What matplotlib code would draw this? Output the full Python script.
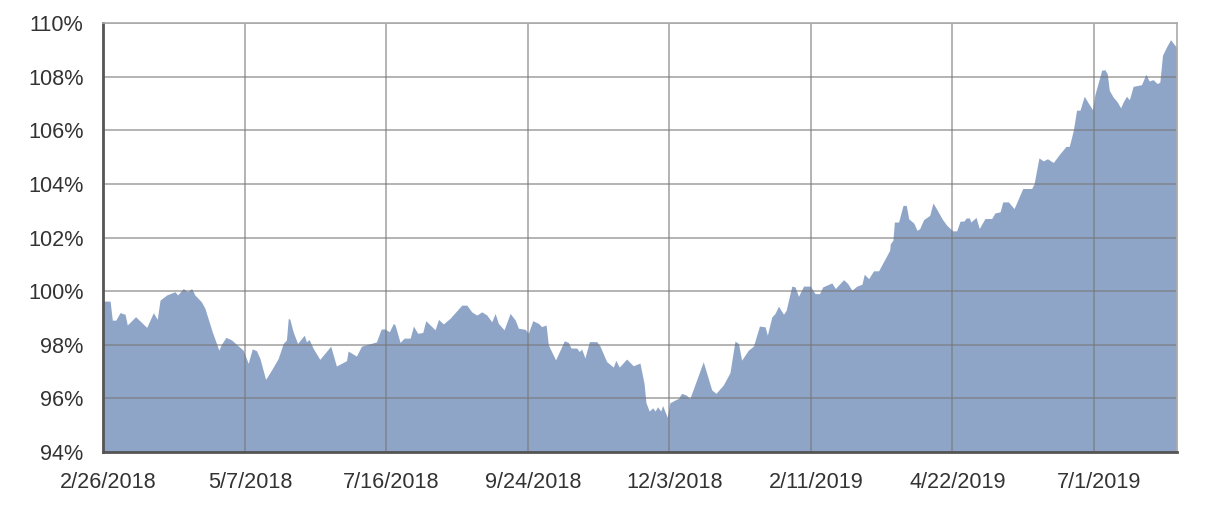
import matplotlib
matplotlib.use("Agg")
import matplotlib.pyplot as plt
import matplotlib.dates as mdates
import matplotlib.transforms as mtransforms
import numpy as np
import pandas as pd

start_date = "2018-02-26"
# days since 2/26/2018 and value (%)
day_offsets = [
    0, 3.5, 4.6, 6.3, 8.4, 10.9, 12.0, 16.1, 21.6, 24.9, 26.8, 28.2, 31.5, 35.6, 36.9,
    39.7, 41.8, 43.8, 45.4, 48.7, 50.4, 54.0, 57.3, 58.3, 60.8, 63.6, 69.3, 71.8, 73.8,
    75.9, 77.6, 80.4, 83.3, 86.6, 89.1, 90.7, 91.6, 92.4, 94.0, 96.2, 99.5, 100.6, 101.9,
    103.9, 107.2, 112.6, 115.4, 120.4, 121.2, 125.3, 127.8, 135.2, 137.5, 139.0, 141.6,
    143.6, 144.4, 146.9, 148.9, 151.9, 153.5, 155.6, 158.1, 159.6, 164.2, 165.9, 168.3,
    171.6, 177.4, 179.9, 182.3, 184.8, 187.3, 189.8, 192.2, 193.9, 195.5, 198.3, 201.3,
    203.8, 205.4, 208.7, 210.3, 212.5, 215.3, 216.9, 219.1, 220.2, 223.8, 228.1, 230.1,
    231.4, 234.2, 235.5, 236.7, 238.3, 240.5, 244.1, 245.7, 249.0, 252.3, 253.6, 255.3,
    258.9, 262.2, 265.5, 267.5, 268.5, 270.1, 271.8, 273.0, 274.2, 275.8, 276.7, 279.0,
    280.3, 282.8, 284.5, 286.1, 288.3, 290.2, 296.8, 301.0, 303.1, 306.7, 310.0, 312.5,
    314.2, 315.8, 319.1, 321.6, 324.6, 327.4, 328.5, 330.7, 332.3, 334.0, 336.5, 337.8,
    340.6, 342.2, 343.9, 346.4, 349.7, 352.1, 354.3, 355.9, 360.4, 362.1, 366.2, 368.2,
    370.3, 372.8, 375.3, 376.4, 378.6, 381.0, 383.5, 386.3, 389.0, 389.3, 390.6, 391.3,
    393.4, 395.6, 397.2, 398.4, 400.9, 402.5, 403.8, 405.8, 408.8, 410.4, 412.4, 414.9,
    417.2, 420.2, 422.1, 423.8, 425.8, 426.8, 428.4, 429.1, 431.7, 433.3, 436.1, 439.4,
    441.1, 443.6, 444.9, 447.7, 450.5, 454.8, 459.2, 460.4, 462.8, 465.0, 467.0, 469.9,
    473.2, 476.2, 477.8, 479.8, 481.4, 483.1, 485.2, 487.2, 489.3, 490.5, 493.0, 493.8,
    495.4, 496.6, 497.6, 499.5, 501.5, 503.2, 504.5, 506.1, 507.5, 509.4, 513.5, 515.7,
    517.3, 519.3, 521.3, 522.6, 523.9, 525.9, 527.9, 529.2, 531.0,
]
values = [
    99.63, 99.63, 98.92, 98.92, 99.20, 99.14, 98.74, 99.05, 98.65, 99.20, 98.95, 99.67, 99.86, 99.98, 99.86,
    100.10, 99.98, 100.10, 99.86, 99.60, 99.36, 98.49, 97.80, 97.99, 98.28, 98.18, 97.80, 97.31, 97.85,
    97.78, 97.49, 96.71, 97.06, 97.49, 98.05, 98.18, 98.99, 98.95, 98.49, 98.05, 98.36, 98.11, 98.20,
    97.87, 97.46, 97.95, 97.21, 97.41, 97.77, 97.58, 97.95, 98.11, 98.58, 98.60, 98.49,
    98.80, 98.74, 98.09, 98.25, 98.25, 98.70, 98.43, 98.46, 98.90, 98.56, 98.95, 98.78,
    98.99, 99.48, 99.48, 99.23, 99.11, 99.23, 99.11, 98.86, 99.17, 98.80, 98.56, 99.17,
    98.93, 98.62, 98.58, 98.43, 98.90, 98.80, 98.68, 98.74, 98.00, 97.44, 98.15, 98.09,
    97.88, 97.88, 97.75, 97.84, 97.51, 98.12, 98.12, 97.96, 97.38, 97.17, 97.42, 97.17,
    97.47, 97.22, 97.32, 96.58, 95.84, 95.53, 95.65, 95.53, 95.69, 95.53, 95.74, 95.30,
    95.84, 95.94, 96.00, 96.19, 96.13, 96.00, 97.37, 96.32, 96.19, 96.50, 96.96, 98.14,
    98.05, 97.43, 97.80, 97.95, 98.70, 98.67, 98.36, 99.04, 99.17, 99.44, 99.14, 99.29,
    100.19, 100.16, 99.81, 100.19, 100.19, 99.91, 99.91, 100.16, 100.31, 100.10, 100.43, 100.29,
    100.04, 100.19, 100.26, 100.63, 100.47, 100.76, 100.76, 101.15, 101.53, 101.77, 101.90, 102.58,
    102.58, 103.20, 103.20, 102.70, 102.54, 102.27, 102.33, 102.67, 102.83, 103.29, 103.04, 102.70,
    102.46, 102.25, 102.25, 102.61, 102.62, 102.73, 102.73, 102.58, 102.75, 102.34, 102.71, 102.71,
    102.92, 102.96, 103.33, 103.33, 103.08, 103.83, 103.83, 104.01, 104.97, 104.86, 104.94, 104.80,
    105.13, 105.40, 105.40, 106.00, 106.75, 106.75, 107.27, 107.02, 106.77, 107.34, 108.01, 108.24,
    108.26, 108.11, 107.49, 107.24, 107.06, 106.84, 107.06, 107.27, 107.14, 107.64, 107.70, 108.09,
    107.84, 107.89, 107.74, 107.80, 108.80, 109.11, 109.38, 109.25, 109.08,
]
x_tick_dates = ["2018-02-26", "2018-05-07", "2018-07-16", "2018-09-24",
                "2018-12-03", "2019-02-11", "2019-04-22", "2019-07-01"]
x_tick_labels = ["2/26/2018", "5/7/2018", "7/16/2018", "9/24/2018",
                 "12/3/2018", "2/11/2019", "4/22/2019", "7/1/2019"]
y_ticks = [94, 96, 98, 100, 102, 104, 106, 108, 110]
y_tick_labels = [f"{v}%" for v in y_ticks]

plt.rcParams['font.family'] = ['Liberation Sans', 'DejaVu Sans']

fig = plt.figure(figsize=(12.12, 5.12), dpi=100)
ax = fig.add_axes([0.085, 0.117, 0.886, 0.838])

t0 = mdates.date2num(pd.Timestamp(start_date))
x = t0 + np.array(day_offsets)
ax.fill_between(x, 94, values, color='#8FA5C7', linewidth=0, zorder=1)

ax.set_xlim(t0, t0 + day_offsets[-1])
ax.set_ylim(94, 110)
ax.set_xticks([mdates.date2num(pd.Timestamp(d)) for d in x_tick_dates])
ax.set_xticklabels(x_tick_labels)
ax.set_yticks(y_ticks)
ax.set_yticklabels(y_tick_labels)

ax.grid(True, color='#777777', alpha=0.6, linewidth=1.3)
ax.tick_params(axis='both', length=0, labelsize=15.6, colors='#333333')
ax.tick_params(axis='y', pad=14)
ax.tick_params(axis='x', pad=14)

shift = mtransforms.ScaledTranslation(5.5 / 100, 0, fig.dpi_scale_trans)
for lbl in ax.get_xticklabels():
    lbl.set_transform(lbl.get_transform() + shift)

for side in ['top', 'right']:
    ax.spines[side].set_color('#aaaaaa')
    ax.spines[side].set_linewidth(1.2)
for side in ['left', 'bottom']:
    ax.spines[side].set_color('#555555')
    ax.spines[side].set_linewidth(2)

fig.savefig("out.png", dpi=100, facecolor='white')
